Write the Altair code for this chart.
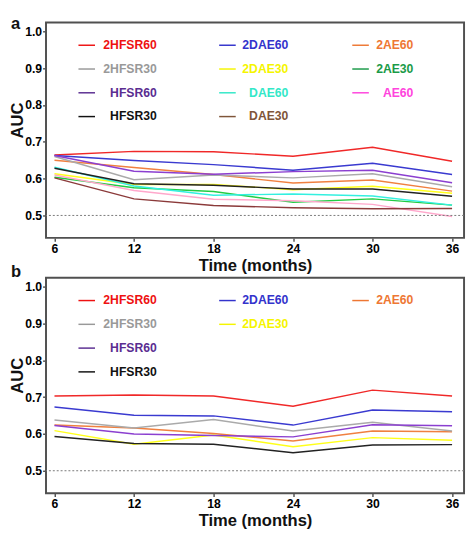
import altair as alt
import pandas as pd

months = [6, 12, 18, 24, 30, 36]

# ---- panel a values (AUC) ----
a_values = {
    "2HFSR60": [0.664, 0.674, 0.673, 0.661, 0.685, 0.647],
    "2DAE60":  [0.663, 0.649, 0.638, 0.623, 0.642, 0.611],
    "2AE60":   [0.650, 0.630, 0.611, 0.588, 0.596, 0.566],
    "2HFSR30": [0.660, 0.597, 0.610, 0.602, 0.613, 0.578],
    "2DAE30":  [0.613, 0.584, 0.584, 0.570, 0.579, 0.560],
    "2AE30":   [0.604, 0.575, 0.565, 0.536, 0.545, 0.528],
    "HFSR60":  [0.663, 0.620, 0.612, 0.619, 0.623, 0.589],
    "DAE60":   [0.631, 0.580, 0.555, 0.558, 0.553, 0.528],
    "AE60":    [0.610, 0.568, 0.544, 0.540, 0.530, 0.497],
    "HFSR30":  [0.628, 0.586, 0.582, 0.572, 0.572, 0.552],
    "DAE30":   [0.602, 0.545, 0.527, 0.521, 0.518, 0.519],
}

# ---- panel b values (AUC) ----
b_values = {
    "2HFSR60": [0.703, 0.706, 0.703, 0.675, 0.719, 0.703],
    "2DAE60":  [0.673, 0.651, 0.649, 0.624, 0.665, 0.660],
    "2AE60":   [0.624, 0.616, 0.601, 0.581, 0.608, 0.606],
    "2HFSR30": [0.638, 0.616, 0.639, 0.608, 0.632, 0.608],
    "2DAE30":  [0.609, 0.572, 0.597, 0.565, 0.590, 0.583],
    "HFSR60":  [0.623, 0.600, 0.596, 0.592, 0.625, 0.622],
    "HFSR30":  [0.593, 0.574, 0.572, 0.549, 0.570, 0.571],
}

legend_columns = [
    ["2HFSR60", "2HFSR30", "HFSR60", "HFSR30"],
    ["2DAE60", "2DAE30", "DAE60", "DAE30"],
    ["2AE60", "2AE30", "AE60"],
]

all_series = ["2HFSR60", "2DAE60", "2AE60", "2HFSR30", "2DAE30", "2AE30",
              "HFSR60", "DAE60", "AE60", "HFSR30", "DAE30"]
line_colors = ["#F02828", "#3A3AD0", "#F08040", "#AAAAAA", "#FFFF1A", "#22CC44",
               "#8B3FD0", "#33F0E0", "#FFA8CC", "#222222", "#8B3A3A"]
text_colors = ["#EE1111", "#3333CC", "#EE7733", "#999999", "#F5F500", "#1A9A48",
               "#5A2D91", "#33E8C8", "#FF44DD", "#111111", "#7F5539"]

FONT = "Liberation Sans"
W, H = 429, 221
X_DOM = [5.360, 36.904]
Y_DOM = [0.439, 1.024]
SYM_X = [33.3, 177.7, 314.3]
LAB_R = [113.7, 248.7, 377.0]
ROW0, ROW_STEP = 23.3, 24.4


def long_table(values):
    rows = []
    for s, vals in values.items():
        for m, v in zip(months, vals):
            rows.append({"month": m, "auc": v, "series": s})
    return pd.DataFrame(rows)


def legend_table(values):
    rows = []
    for c, col in enumerate(legend_columns):
        r = 0
        for s in col:
            if s in values:
                y = ROW0 + r * ROW_STEP
                rows.append({"series": s, "sx": SYM_X[c], "sx2": SYM_X[c] + 17,
                             "lx": LAB_R[c], "ly": y})
                r += 1
    return pd.DataFrame(rows)


def panel(values, tag, tag_y, tag_baseline):
    df = long_table(values)
    leg = legend_table(values)
    present = [s for s in all_series if s in values]
    lc = [line_colors[all_series.index(s)] for s in present]
    tc = [text_colors[all_series.index(s)] for s in present]

    xaxis = alt.Axis(values=months, title="Time (months)", titleY=33,
                     titleBaseline="alphabetic", labelPadding=1.5)
    yaxis = alt.Axis(values=[0.5, 0.6, 0.7, 0.8, 0.9, 1.0], format=".1f",
                     title="AUC", labelPadding=1,
                     titleX=-20, titleY=100, titleBaseline="bottom")
    xscale = alt.Scale(domain=X_DOM, nice=False, zero=False)
    yscale = alt.Scale(domain=Y_DOM, nice=False, zero=False)

    lines = alt.Chart(df).mark_line(strokeWidth=1.5).encode(
        x=alt.X("month:Q", scale=xscale, axis=xaxis),
        y=alt.Y("auc:Q", scale=yscale, axis=yaxis),
        color=alt.Color("series:N", scale=alt.Scale(domain=present, range=lc),
                        legend=None),
    )
    ref = alt.Chart(pd.DataFrame({"auc": [0.5]})).mark_rule(
        color="#777777", strokeDash=[2, 2], strokeWidth=1
    ).encode(y=alt.Y("auc:Q", scale=yscale, axis=yaxis))

    sym = alt.Chart(leg).mark_rule(strokeWidth=1.5).encode(
        x=alt.X("sx:Q", scale=None, axis=None),
        x2=alt.X2("sx2:Q"),
        y=alt.Y("ly:Q", scale=None, axis=None),
        stroke=alt.Stroke("series:N", scale=alt.Scale(domain=present, range=tc),
                          legend=None),
    )
    txt = alt.Chart(leg).mark_text(align="right", baseline="middle", font=FONT,
                                   fontSize=12.5, fontWeight="bold").encode(
        x=alt.X("lx:Q", scale=None, axis=None),
        y=alt.Y("ly:Q", scale=None, axis=None),
        text="series:N",
        fill=alt.Fill("series:N", scale=alt.Scale(domain=present, range=tc),
                      legend=None),
    )
    tag_mark = alt.Chart(pd.DataFrame({"t": [tag]})).mark_text(
        align="left", baseline=tag_baseline, font=FONT, fontSize=17,
        fontWeight="bold", color="#111111"
    ).encode(x=alt.value(-36), y=alt.value(tag_y), text="t:N")

    return alt.layer(lines, ref, sym, txt, tag_mark).properties(width=W, height=H)


pa = panel(a_values, "a", -6, "top")
pb = panel(b_values, "b", -1, "alphabetic")

chart = alt.vconcat(pa, pb, spacing=-12).properties(
    padding={"left": 0, "top": 0, "right": 0, "bottom": 0},
    background="white",
).configure_view(
    stroke="#505050", strokeWidth=2
).configure_axis(
    grid=False, domain=False, tickColor="#555555", tickSize=3.5, tickWidth=1.5,
    labelFont=FONT, labelFontSize=12.5, labelFontWeight="bold",
    labelColor="#000000", titleFont=FONT, titleFontSize=17,
    titleFontWeight="bold", titleColor="#111111"
)

chart.save("out.html", embed_options={"renderer": "svg", "actions": False})
